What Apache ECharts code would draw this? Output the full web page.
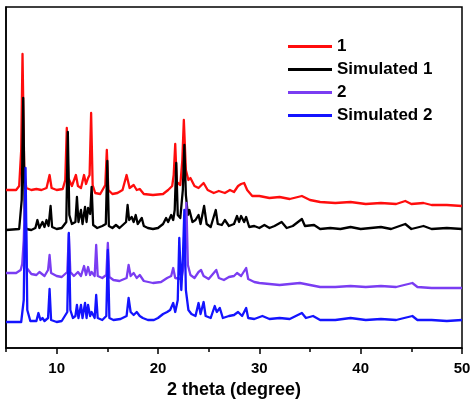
<!DOCTYPE html>
<html>
<head>
<meta charset="utf-8">
<script src="https://cdn.jsdelivr.net/npm/echarts@6/dist/echarts.min.js"></script>
<style>
  html, body { margin: 0; padding: 0; background: #fff; }
  #chart { width: 474px; height: 407px; }
</style>
</head>
<body>
<div id="chart"></div>
<script>
// [2 theta, intensity (a.u., offset for stacking)]
var sample1 = [
  [5.0,158],[6.0,158],[6.3,162],[6.5,198],[6.63,294],[6.8,178],[7.0,160],[7.5,158],[8.0,159],[8.5,158],
  [9.0,160],[9.3,173],[9.5,160],[10.0,158],[10.6,159],[10.85,168],[11.0,220],[11.15,170],[11.5,162],[11.9,173],
  [12.1,162],[12.4,160],[12.7,173],[12.9,164],[13.1,170],[13.25,173],[13.4,235],[13.55,163],[13.8,155],[14.3,154],
  [14.8,163],[14.95,198],[15.1,158],[15.5,154],[16.0,155],[16.5,158],[16.9,173],[17.2,160],[17.6,163],[17.9,158],
  [18.2,159],[18.6,154],[19.5,153],[20.5,154],[21.0,158],[21.4,162],[21.55,173],[21.7,204],[21.85,166],[22.2,163],
  [22.4,188],[22.55,228],[22.75,178],[23.0,168],[23.2,170],[23.6,162],[24.0,160],[24.5,165],[24.9,158],[25.5,155],
  [26.0,157],[26.6,155],[27.1,158],[27.5,156],[27.9,162],[28.2,164],[28.5,165],[28.8,158],[29.3,152],[30.0,152],
  [31.0,150],[32.0,151],[33.0,149],[34.2,152],[35.0,148],[36.0,146],[37.5,145],[39.0,146],[40.5,144],[42.0,145],
  [43.5,144],[44.4,147],[45.0,144],[46.2,145],[47.0,143],[48.5,143],[50.0,142]
];
var simulated1 = [
  [5.0,118],[6.3,119],[6.55,148],[6.7,250],[6.85,128],[7.0,119],[7.5,118],[7.9,120],[8.1,128],[8.3,120],
  [8.6,126],[8.8,121],[9.0,128],[9.2,122],[9.4,142],[9.55,121],[10.0,119],[10.5,120],[10.95,126],[11.1,216],
  [11.25,133],[11.5,124],[11.85,126],[12.0,151],[12.15,126],[12.4,138],[12.55,124],[12.8,141],[12.95,126],[13.1,140],
  [13.3,134],[13.45,161],[13.6,123],[14.0,120],[14.5,122],[14.85,124],[15.0,187],[15.15,122],[15.5,120],[15.85,123],
  [16.2,120],[16.85,126],[17.0,143],[17.15,128],[17.4,131],[17.6,126],[17.8,133],[18.0,124],[18.4,130],[18.6,122],
  [19.0,120],[19.5,119],[20.0,120],[20.5,124],[20.8,130],[21.0,126],[21.3,133],[21.5,128],[21.65,138],[21.8,185],
  [21.95,133],[22.2,130],[22.45,158],[22.6,203],[22.75,153],[22.95,133],[23.1,138],[23.4,126],[23.7,128],[24.0,133],
  [24.2,124],[24.55,142],[24.8,124],[25.2,121],[25.7,138],[25.9,124],[26.3,123],[26.6,128],[27.0,122],[27.5,124],
  [27.8,132],[28.0,126],[28.2,132],[28.5,126],[28.7,131],[29.0,121],[29.5,122],[30.0,120],[30.5,123],[31.0,120],
  [31.5,122],[32.2,126],[32.7,120],[33.3,122],[34.2,129],[34.5,122],[35.4,123],[36.0,119],[37.0,120],[38.0,119],
  [39.0,121],[40.0,119],[41.0,120],[42.0,121],[43.0,119],[44.4,124],[45.0,119],[46.2,122],[47.0,119],[48.5,120],
  [50.0,119]
];
var sample2 = [
  [5.0,75],[6.0,75],[6.45,78],[6.6,84],[6.75,108],[6.9,158],[7.05,80],[7.5,74],[8.0,73],[8.3,76],
  [8.8,72],[9.15,78],[9.3,93],[9.45,75],[10.0,72],[10.5,71],[11.05,76],[11.2,114],[11.35,76],[11.7,72],
  [12.1,76],[12.4,72],[12.7,82],[12.9,73],[13.1,81],[13.3,73],[13.45,76],[13.75,72],[13.9,103],[14.05,72],
  [14.5,70],[14.9,73],[15.05,105],[15.2,71],[15.6,68],[16.2,67],[16.9,70],[17.1,83],[17.3,72],[17.6,75],
  [17.9,70],[18.2,73],[18.6,67],[19.5,65],[20.3,66],[20.9,70],[21.3,72],[21.5,80],[21.7,70],[22.3,69],
  [22.65,88],[22.8,145],[22.95,83],[23.2,73],[23.6,70],[24.0,76],[24.25,78],[24.5,72],[25.0,69],[25.75,78],
  [26.0,70],[26.5,68],[27.0,71],[27.5,72],[27.8,75],[28.2,72],[28.7,80],[28.9,69],[29.5,66],[30.0,65],
  [31.0,64],[32.0,63],[33.0,64],[34.0,65],[35.0,63],[36.0,61],[37.5,61],[39.0,62],[40.5,61],[42.0,62],
  [43.5,61],[45.1,65],[45.6,61],[47.0,60],[48.5,60],[50.0,60]
];
var simulated2 = [
  [5.0,26],[6.5,26],[6.75,48],[6.93,180],[7.1,38],[7.4,27],[8.0,27],[8.2,35],[8.4,28],[8.6,30],
  [8.8,27],[9.15,30],[9.3,59],[9.45,28],[10.0,26],[10.5,27],[11.05,36],[11.2,115],[11.35,38],[11.6,30],
  [11.85,32],[12.0,43],[12.15,30],[12.4,43],[12.55,30],[12.8,45],[12.95,30],[13.1,43],[13.3,32],[13.45,36],
  [13.75,30],[13.9,53],[14.05,30],[14.5,28],[14.9,32],[15.05,98],[15.2,30],[15.6,28],[16.3,29],[16.9,32],
  [17.1,50],[17.3,36],[17.6,33],[17.9,36],[18.2,32],[18.5,30],[19.0,28],[19.6,28],[20.0,30],[20.5,34],
  [20.9,36],[21.2,38],[21.5,45],[21.7,36],[21.95,48],[22.1,110],[22.3,58],[22.45,88],[22.6,138],[22.75,58],
  [23.0,38],[23.3,34],[23.7,32],[24.0,45],[24.2,34],[24.5,46],[24.7,32],[25.2,30],[25.6,42],[25.8,36],
  [26.1,40],[26.4,30],[27.0,32],[27.5,33],[27.9,36],[28.3,32],[28.7,40],[28.9,30],[29.5,29],[30.3,32],
  [31.0,29],[32.0,30],[33.0,29],[34.2,35],[34.6,30],[35.3,32],[36.0,28],[37.5,28],[39.0,30],[40.5,28],
  [42.0,29],[43.5,28],[45.1,32],[45.6,28],[47.0,28],[48.5,27],[50.0,28]
];
var seriesNames = ['1', 'Simulated 1', '2', 'Simulated 2'];
var seriesColors = ['#ff0d0d', '#000000', '#7a3df2', '#1414ff'];
var majorTicks = [10, 20, 30, 40, 50];
var minorTicks = [5, 15, 25, 35, 45];

var chart = echarts.init(document.getElementById('chart'));
var font = 'Arial, "Liberation Sans", sans-serif';

var allData = [sample1, simulated1, sample2, simulated2];
var series = allData.map(function (d, i) {
  return {
    name: seriesNames[i],
    type: 'line',
    data: d,
    symbol: 'none',
    smooth: false,
    lineStyle: { color: seriesColors[i], width: 2.3, join: 'round' },
    itemStyle: { color: seriesColors[i] }
  };
});

var option = {
  animation: false,
  backgroundColor: '#fff',
  grid: {
    left: 6, right: 12, top: 7, bottom: 59,
    show: true, borderColor: '#000', borderWidth: 1.5, backgroundColor: 'transparent'
  },
  legend: {
    data: seriesNames,
    orient: 'vertical',
    left: 283,
    top: 33,
    itemWidth: 44,
    itemHeight: 3,
    itemGap: 6,
    icon: 'rect',
    textStyle: { fontFamily: font, fontWeight: 'bold', fontSize: 17, lineHeight: 17, color: '#000' }
  },
  xAxis: [
    {
      type: 'value',
      min: 5,
      max: 50,
      name: '2 theta (degree)',
      nameLocation: 'middle',
      nameGap: 32,
      nameTextStyle: { fontFamily: font, fontWeight: 'bold', fontSize: 18, color: '#000' },
      axisLine: { show: true, lineStyle: { color: '#000', width: 1.5 } },
      axisTick: { show: true, inside: false, length: 6, customValues: majorTicks, lineStyle: { color: '#000', width: 1.5 } },
      axisLabel: { customValues: majorTicks, margin: 13, fontFamily: font, fontWeight: 'bold', fontSize: 15, color: '#000' },
      splitLine: { show: false }
    },
    {
      type: 'value',
      min: 5,
      max: 50,
      position: 'bottom',
      axisLine: { show: false },
      axisTick: { show: true, inside: false, length: 4, customValues: minorTicks, lineStyle: { color: '#000', width: 1.5 } },
      axisLabel: { show: false },
      splitLine: { show: false }
    }
  ],
  yAxis: {
    type: 'value',
    min: 0,
    max: 341,
    axisLine: { show: true, lineStyle: { color: '#000', width: 1.5 } },
    axisTick: { show: false },
    axisLabel: { show: false },
    splitLine: { show: false }
  },
  series: series
};

chart.setOption(option);
</script>
</body>
</html>
